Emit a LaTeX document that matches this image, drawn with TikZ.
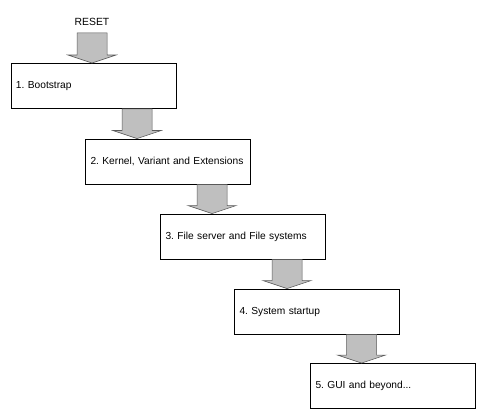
\documentclass[tikz,border=0pt]{standalone}
\usepackage{fontspec}
\setmainfont{Liberation Sans}
\usetikzlibrary{calc}
\begin{document}
\frenchspacing
\begin{tikzpicture}[x=1pt,y=-1pt,
  stagebox/.style={draw=black, line width=0.9pt, fill=white, rectangle,
    text width=155pt, inner xsep=5pt, inner ysep=0pt, minimum height=45pt,
    align=left, font=\fontsize{10.2}{12}\selectfont},
  bigarrow/.style={draw=black!65, line width=0.6pt, fill=black!25, line join=miter},
  lbl/.style={font=\fontsize{10.4}{12}\selectfont, inner sep=0pt}]
\useasboundingbox (0,0) rectangle (482,417);
\node[lbl] (reset) at (92,22) {RESET};
\node[stagebox] (b1) at (93.5,86) {1. Bootstrap};
\node[stagebox] (b2) at (168,161.5) {2. Kernel, Variant and Extensions};
\node[stagebox] (b3) at (243,236.5) {3. File server and File systems};
\node[stagebox] (b4) at (317,311.5) {4. System startup};
\node[stagebox] (b5) at (393,386) {5. GUI and beyond...};
% arrow tips on box tops
\coordinate (t1) at ($(b1.north west)+(81.5,0)$);
\coordinate (t2) at ($(b2.north west)+(52,0)$);
\coordinate (t3) at ($(b3.north west)+(52,0)$);
\coordinate (t4) at ($(b4.north west)+(53,0)$);
\coordinate (t5) at ($(b5.north west)+(51.5,0)$);
\coordinate (s1) at ($(reset.south -| t1)+(0,7)$);
\coordinate (s2) at (b1.south -| t2);
\coordinate (s3) at (b2.south -| t3);
\coordinate (s4) at (b3.south -| t4);
\coordinate (s5) at (b4.south -| t5);
\foreach \i in {1,...,5}{
  \draw[bigarrow] ($(s\i)+(-15,0)$) -- ($(s\i)+(15,0)$) -- ($(t\i)+(15,-8)$)
    -- ($(t\i)+(24,-8)$) -- (t\i) -- ($(t\i)+(-24,-8)$) -- ($(t\i)+(-15,-8)$) -- cycle;
}
\end{tikzpicture}
\end{document}
